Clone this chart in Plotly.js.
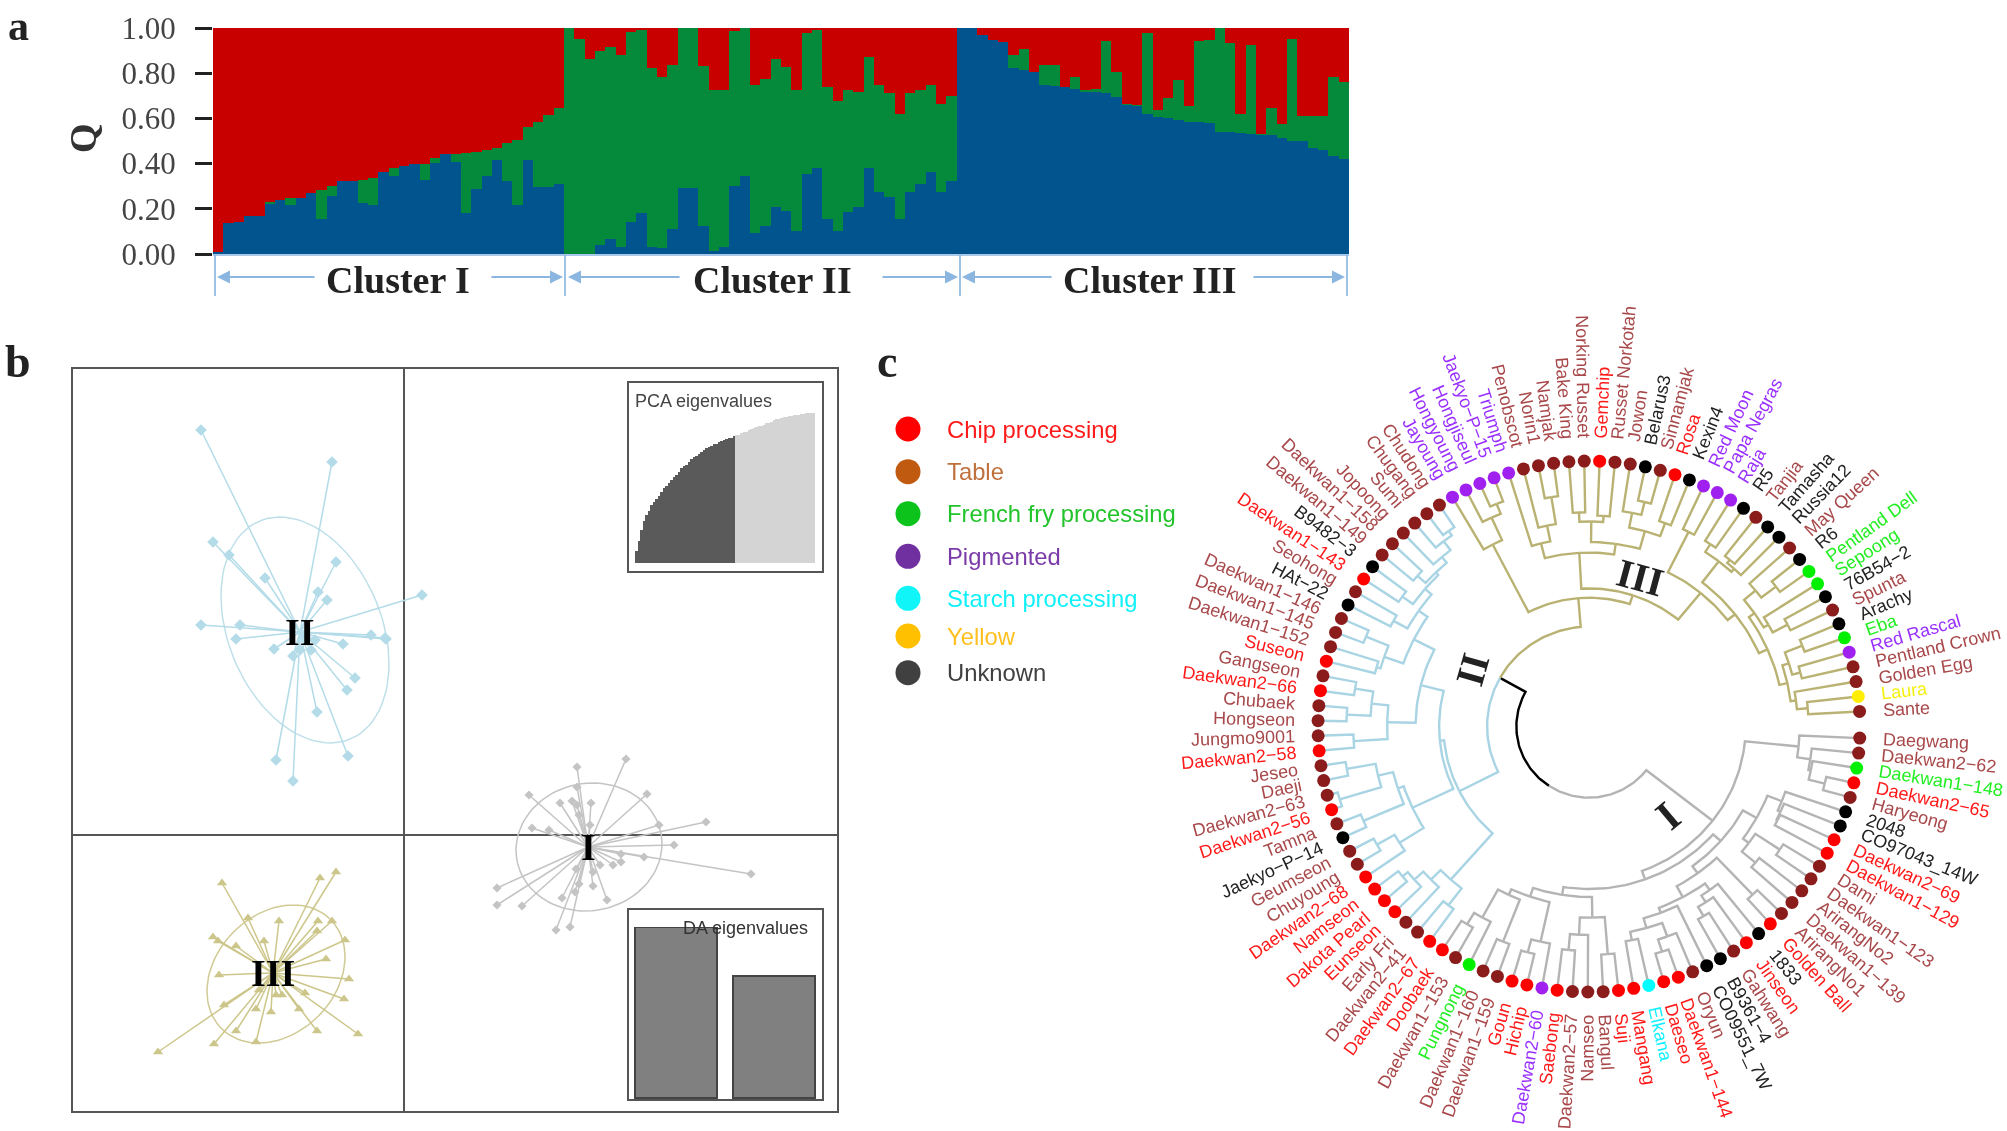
<!DOCTYPE html>
<html>
<head>
<meta charset="utf-8">
<script src="https://cdn.plot.ly/plotly-3.0.1.min.js"></script>
<style>html,body{margin:0;padding:0;background:#fff}#chart{width:2007px;height:1131px;filter:blur(0.55px)}</style>
</head>
<body>
<div id="chart"></div>
<script>
// ---------- Panel a: STRUCTURE-like Q bars ----------
const blueQ = [.010,.136,.143,.168,.168,.222,.239,.217,.247,.272,.154,.257,.321,.321,.227,.217,.362,.346,.391,.399,.328,.402,.442,.405,.180,.287,.346,.417,.321,.217,.417,.295,.295,.310,
 0,0,0,.040,.065,.030,.143,.180,.030,.025,.109,.291,.291,.124,.015,.030,.301,.346,.092,.124,.207,.192,.103,.355,.380,.154,.103,.188,.207,.380,.276,.251,.154,.276,.310,.362,.276,.321,
 1,1,.970,.945,.936,.823,.812,.804,.749,.744,.739,.730,.719,.715,.712,.694,.660,.656,.620,.606,.601,.591,.582,.582,.579,.539,.538,.535,.532,.527,.527,.513,.502,.501,.468,.458,.434,.421];
const blueGreenQ = [.010,.136,.143,.168,.168,.232,.239,.247,.247,.272,.284,.301,.321,.321,.328,.335,.362,.380,.391,.399,.399,.424,.442,.442,.449,.453,.461,.468,.490,.505,.564,.582,.616,.645,
 1,.951,.863,.897,.916,.882,.982,.993,.823,.783,.838,1,1,.830,.724,.724,.985,1,.749,.775,.863,.827,.724,.978,.993,.739,.679,.724,.715,.871,.749,.712,.619,.712,.724,.749,.663,.697,
 1,1,.970,.945,.936,.882,.907,.804,.838,.838,.739,.783,.724,.730,.941,.804,.663,.660,.978,.638,.690,.768,.656,.941,.948,1,.934,.619,.926,.532,.645,.576,.951,.612,.609,.609,.783,.759];
const qTicks = [0,.2,.4,.6,.8,1];
const qTickLabels = ['0.00','0.20','0.40','0.60','0.80','1.00'];
const clusterTitles = ['Cluster I','Cluster II','Cluster III'];

// ---------- Panel b: DAPC scatter (LD1, LD2) ----------
const ld1II = [-2.03,-.72,-1.91,-1.75,-1.39,-.68,-.86,-.77,.18,-2.03,-1.64,-1.68,-1.30,-1.11,-1.04,-.93,-.61,-.33,-.18,-.19,-.49,-.57,-.87,-.56,-1.28,-1.11,-.89];
const ld2II = [4.05,3.73,2.93,2.80,2.57,2.73,2.43,2.35,2.40,2.10,2.10,1.96,1.86,1.79,1.85,1.85,1.91,2.00,1.96,1.97,1.57,1.45,1.23,.79,.75,.54,1.95];
const ld1I = [2.22,1.73,1.73,2.43,1.25,1.56,1.68,1.73,1.87,1.75,1.28,1.86,2.55,3.02,1.45,2.70,2.17,2.40,3.47,2.17,1.96,2.09,1.89,1.72,1.75,1.89,1.58,1.71,2.03,1.66,1.52,.93,.93,1.18];
const ld2I = [.76,.68,.48,.41,.40,.32,.34,.30,.32,.20,.07,.10,.10,.13,.05,-.10,-.19,-.22,-.39,-.27,-.30,-.30,-.37,-.34,-.49,-.51,-.63,-.57,-.65,-.92,-.95,-.53,-.70,-.71];
const ld1III = [-1.82,-.84,-.68,-1.56,-1.25,-.86,-.87,-.72,-.59,-1.91,-1.86,-1.68,-1.40,-.78,-1.85,-.55,-.60,-1.80,-1.45,-1.22,-1.28,-.99,-1.48,-1.33,-1.05,-.87,-1.68,-1.90,-1.48,-.46,-2.46];
const ld2III = [-.48,-.43,-.37,-.83,-.86,-.86,-.96,-.86,-1.05,-1.02,-1.06,-1.11,-1.06,-1.24,-1.40,-1.44,-1.64,-1.70,-1.55,-1.60,-1.60,-1.58,-1.74,-1.77,-1.74,-1.96,-1.96,-2.09,-2.07,-1.99,-2.17];
const centroidI = [1.84,-.12], centroidII = [-1.04,2.03], centroidIII = [-1.31,-1.38];
const ellipseI = [1.85,-.12,.73,.64,.05], ellipseII = [-.99,2.05,.84,1.13,-.30], ellipseIII = [-1.28,-1.39,.69,.69,.25];
const pcaEigen = [.08,.15,.22,.28,.32,.35,.385,.41,.43,.45,.475,.50,.515,.535,.555,.575,.59,.61,.63,.645,.655,.67,.69,.705,.715,.725,.74,.755,.765,.775,.78,.79,.795,.805,.81,.82,.825,.83,.835,.845,
 .85,.855,.865,.87,.875,.885,.89,.90,.905,.91,.915,.92,.93,.935,.94,.95,.955,.96,.965,.97,.972,.975,.98,.982,.985,.987,.99,.992,.995,.997,1,1];
const pcaRetained = 40;
const daEigen = [1,.717];

// ---------- Panel c: circular dendrogram ----------
const useNames = ['Chip processing','Table','French fry processing','Pigmented','Starch processing','Yellow','Unknown'];
const leafNames = ['Daegwang','Daekwan2−62','Daekwan1−148','Daekwan2−65','Haryeong','2048','CO97043_14W','Daekwan2−69','Daekwan1−129','Dami','Daekwan1−123','ArirangNo2','Daekwan1−139','ArirangNo1','Golden Ball','1833','Jinseon','Gahwang','B9361−4','CO09551_7W','Oryun','Daekwan1−144','Daeseo','Elkana','Mangang','Suji','Bangul','Namseo','Daekwan2−57','Saebong','Daekwan2−60','Hichip','Goun','Daekwan1−159','Daekwan1−160','Pungnong','Daekwan1−153','Doobaek','Daekwan2−67','Daekwan2−41','Early Fri','Eunseon','Dakota Pearl','Namseon','Daekwan2−68','Chuyoung','Geumseon','Jaekyo−P−14','Tamna','Daekwan2−56','Daekwan2−63','Daeji','Jeseo','Daekwan2−58','Jungmo9001','Hongseon','Chubaek','Daekwan2−66','Gangseon','Suseon','Daekwan1−152','Daekwan1−145','Daekwan1−146','HAt−22','Seohong','Daekwan1−143','B9482−3','Daekwan1−149','Daekwan1−158','Jopoong','Sumi','Chugang','Chudong','Jayoung','Hongyoung','Hongjiseul','Jaekyo−P−15','Triumph','Penobscot','Norin1','Namjak','Bake King','Norking Russet','Gemchip','Russet Norkotah','Jowon','Belarus3','Sinnamjak','Rosa','Kexin4','Red Moon','Papa Negras','Raja','R5','Tanjia','Tamasha','Russia12','May Queen','R6','Pentland Dell','Sepoong','76B54−2','Spunta','Arachy','Eba','Red Rascal','Pentland Crown','Golden Egg','Laura','Sante'];
// 0 chip, 1 table, 2 french fry, 3 pigmented, 4 starch, 5 yellow, 6 unknown
const leafUse = [1,1,2,0,1,6,6,0,0,1,1,1,1,1,0,6,0,1,6,6,1,0,0,4,0,0,1,1,1,0,3,0,0,1,1,2,1,0,0,1,1,0,0,0,0,1,1,6,1,0,1,1,1,0,1,1,1,0,1,0,1,1,1,6,1,0,6,1,1,1,1,1,1,3,3,3,3,3,1,1,1,1,1,0,1,1,6,1,0,6,3,3,3,6,1,6,6,1,6,2,2,6,1,6,2,3,1,1,5,1];
// dendrogram nodes: [radius, child, child]; an integer is a leaf number
const treeI = [.578,
  [.777,1,[.826,2,[.835,3,[.896,4,5]]]],
  [.612,
    [.65,
      [.708,[.765,6,[.776,7,[.78,8,9]]],[.735,[.843,10,11],[.80,12,13]]],
      [.683,[.875,14,15],[.73,[.76,16,[.79,17,[.83,18,19]]],[.75,20,[.788,[.842,21,[.89,22,23]],[.82,24,25]]]]]
    ],
    [.642,
      [.72,[.86,26,27],[.785,28,[.845,29,30]]],
      [.677,[.83,31,[.88,32,33]],[.70,[.87,34,35],[.82,36,[.87,37,38]]]]
    ]
  ]
];
const treeII = [.537,
  [.77,[.85,39,40],[.82,41,[.865,42,[.89,43,44]]]],
  [.553,
    [.72,
      [.825,45,[.9,46,47]],
      [.743,[.905,48,49],[.80,[.96,50,51],[.908,52,53]]]
    ],
    [.64,
      [.745,[.87,54,55],[.807,[.895,56,57],[.875,58,59]]],
      [.725,
        [.80,[.815,60,61],[.89,62,63]],
        [.765,[.824,64,65],[.797,[.845,66,67],[.81,[.85,68,69],[.838,70,[.88,71,[.90,72,73]]]]]]
      ]
    ]
  ]
];
const treeIII = [.485,
  [.772,74,[.865,75,[.905,76,77]]],
  [.52,
    [.655,
      [.712,78,[.772,79,[.875,80,81]]],
      [.695,
        [.772,[.807,82,83],[.795,84,85]],
        [.764,[.82,86,[.87,87,88]],[.816,89,90]]
      ]
    ],
    [.65,
      [.82,91,92],
      [.685,
        [.785,[.82,93,94],[.80,[.815,95,96],97]],
        [.72,
          [.745,[.80,98,[.868,99,100]],[.765,101,[.827,102,103]]],
          [.75,[.775,[.844,104,105],[.806,106,107]],[.77,108,[.81,109,110]]]
        ]
      ]
    ]
  ]
];
const rootRadius = .268, upperRadius = .376;

// ---------- Styling ----------
const W = 2007, H = 1131;
const SERIF = '"Liberation Serif", serif', SANS = '"Liberation Sans", Arial, sans-serif';
const COL = {blue:'#02548f', green:'#05893a', red:'#c90000'};
const clusterCol = {I:'#b4b4b4', II:'#a8d4e4', III:'#b9b272'};
const dotCol = ['#ff0000','#8b1c1c','#00f000','#a020f0','#00ffff','#ffee00','#000000'];
const labelCol = ['#ff1a1a','#a8484a','#22ee22','#9a30ff','#10f0ff','#f5f010','#222222'];
const legendDot = ['#ff0000','#c05a11','#0cc31b','#7030a0','#0ff5f8','#ffc000','#404040'];
const legendTxt = ['#ff1a1a','#c0703c','#22c42c','#7a3aa8','#10f0f8','#ffc020','#404040'];
const legendY = [429,471.7,513.7,556.3,598.3,636,672.7];
const domX = (a,b)=>[a/W,b/W], domY = (t,b)=>[1-b/H,1-t/H];
const px = v=>v/W, py = v=>1-v/H;

const traces = [], shapes = [], ann = [];
const paperText=(t,x,y,font,extra)=>Object.assign({xref:'paper',yref:'paper',x:px(x),y:py(y),xanchor:'center',yanchor:'middle',text:t,showarrow:false,font},extra||{});

// panel a
const xBars = blueQ.map((_,i)=>i+1);
const greenQ = blueGreenQ.map((v,i)=>+(v-blueQ[i]).toFixed(3));
const redQ = blueGreenQ.map(v=>+(1-v).toFixed(3));
[[blueQ,COL.blue],[greenQ,COL.green],[redQ,COL.red]].forEach(([y,c])=>traces.push(
  {type:'bar',x:xBars,y,marker:{color:c,line:{width:0}},xaxis:'x',yaxis:'y',showlegend:false,hoverinfo:'skip'}));

// panel b
function star(xs,ys,c,col,sym,size){
  const lx=[],ly=[];
  xs.forEach((x,i)=>{lx.push(c[0],x,null);ly.push(c[1],ys[i],null);});
  traces.push({type:'scatter',mode:'lines',x:lx,y:ly,line:{color:col,width:1.5},xaxis:'x2',yaxis:'y2',showlegend:false,hoverinfo:'skip'});
  traces.push({type:'scatter',mode:'markers',x:xs,y:ys,marker:{color:col,symbol:sym,size},xaxis:'x2',yaxis:'y2',showlegend:false,hoverinfo:'skip'});
}
function ellipse(e,col){
  const [cx,cy,wx,wy,rho]=e, ex=[], ey=[];
  for(let d=0;d<=360;d+=4){const t=d*Math.PI/180;
    ex.push(cx+wx*Math.cos(t));
    ey.push(cy+wy*(rho*Math.cos(t)+Math.sqrt(1-rho*rho)*Math.sin(t)));}
  traces.push({type:'scatter',mode:'lines',x:ex,y:ey,line:{color:col,width:1.5},xaxis:'x2',yaxis:'y2',showlegend:false,hoverinfo:'skip'});
}
const bI='#c4c4c4', bII='#bfe0ea', bIII='#d0ca94';
ellipse(ellipseI,bI);ellipse(ellipseII,bII);ellipse(ellipseIII,bIII);
star(ld1I,ld2I,centroidI,bI,'diamond',7);
star(ld1II,ld2II,centroidII,'#b4dce8','diamond',9);
star(ld1III,ld2III,centroidIII,'#cdc68a','triangle-up',9);
[['I',centroidI],['II',centroidII],['III',centroidIII]].forEach(([t,c])=>ann.push(
  {xref:'x2',yref:'y2',x:c[0],y:c[1],xanchor:'center',yanchor:'middle',text:t,showarrow:false,font:{family:SERIF,size:38,color:'#000',weight:700}}));

// insets
traces.push({type:'bar',x:pcaEigen.map((_,i)=>i),y:pcaEigen,xaxis:'x3',yaxis:'y3',showlegend:false,hoverinfo:'skip',
  marker:{color:pcaEigen.map((_,i)=>i<pcaRetained?'#5a5a5a':'#d4d4d4'),line:{width:0}}});
traces.push({type:'bar',x:[0,1],y:daEigen,width:.837,xaxis:'x4',yaxis:'y4',showlegend:false,hoverinfo:'skip',
  marker:{color:'#808080',line:{color:'#444',width:1.5}}});
ann.push(paperText('PCA eigenvalues',633,401,{family:SANS,size:18,color:'#444'},{xanchor:'left'}));
ann.push(paperText('DA eigenvalues',745,928,{family:SANS,size:18,color:'#333'}));

// panel c : tree
const thetaStart=-2.5, thetaStep=3.25, RX=271, RY=265.5, CX=1589, CY=726.5;
const rad=d=>d*Math.PI/180;
const leafTheta=n=>thetaStart-thetaStep*(n-1);
function build(n){
  if(typeof n==='number') return {theta:leafTheta(n),r:1,kids:[]};
  const a=build(n[1]),b=build(n[2]);
  return {theta:(a.theta+b.theta)/2,r:n[0],kids:[a,b]};
}
const segs={};
function addBranch(p,c,col){
  const s=segs[col]||(segs[col]={x:[],y:[]});
  const n=Math.max(2,Math.ceil(Math.abs(c.theta-p.theta)/1.5));
  for(let i=0;i<=n;i++){const t=rad(p.theta+(c.theta-p.theta)*i/n);
    s.x.push(p.r*Math.cos(t));s.y.push(p.r*Math.sin(t));}
  s.x.push(c.r*Math.cos(rad(c.theta)),null);s.y.push(c.r*Math.sin(rad(c.theta)),null);
}
function walk(node,col){node.kids.forEach(k=>{addBranch(node,k,col);walk(k,col);});}
const nI=build(treeI), nII=build(treeII), nIII=build(treeIII);
const upper={theta:(nII.theta+nIII.theta)/2,r:upperRadius,kids:[nII,nIII]};
const root={theta:(nI.theta+upper.theta)/2,r:rootRadius,kids:[nI,upper]};
addBranch(root,nI,clusterCol.I);addBranch(root,upper,'#000000');
addBranch(upper,nII,clusterCol.II);addBranch(upper,nIII,clusterCol.III);
walk(nI,clusterCol.I);walk(nII,clusterCol.II);walk(nIII,clusterCol.III);
Object.keys(segs).forEach(col=>traces.push({type:'scatter',mode:'lines',x:segs[col].x,y:segs[col].y,
  line:{color:col,width:2.4},xaxis:'x5',yaxis:'y5',showlegend:false,hoverinfo:'skip'}));
useNames.forEach((name,u)=>{
  const idx=leafUse.map((v,i)=>v===u?i+1:0).filter(Boolean);
  traces.push({type:'scatter',mode:'markers',name,x:idx.map(n=>Math.cos(rad(leafTheta(n)))),y:idx.map(n=>Math.sin(rad(leafTheta(n)))),
    marker:{color:dotCol[u],size:13},xaxis:'x5',yaxis:'y5',showlegend:false,hoverinfo:'skip'});
});
// radial leaf labels, inner end of each label at a fixed radius
const ctx=document.createElement('canvas').getContext('2d');
ctx.font='18px "Liberation Sans"';
const labelR=1.085;
leafNames.forEach((name,i)=>{
  const th=leafTheta(i+1), c=Math.cos(rad(th)), s=Math.sin(rad(th));
  const w=ctx.measureText(name).width;
  const right=c>=0;
  ann.push({xref:'x5',yref:'y5',x:labelR*c+(w/2)*c/RX,y:labelR*s+(w/2)*s/RY,text:name,showarrow:false,
    textangle:right?-th:-(th+180),xanchor:'center',yanchor:'middle',
    font:{family:SANS,size:18,color:labelCol[leafUse[i]]}});
});
[['I',1668,816,-40,42],['II',1472,670,-74,40],['III',1640,577,15,40]].forEach(([t,x,y,a,sz])=>ann.push(
  paperText(t,x,y,{family:SERIF,size:sz,color:'#222',weight:700},{textangle:a})));

// legend for panel c
traces.push({type:'scatter',mode:'markers',x:useNames.map(()=>908),y:legendY,marker:{color:legendDot,size:25},xaxis:'x6',yaxis:'y6',showlegend:false,hoverinfo:'skip'});
useNames.forEach((t,i)=>ann.push(paperText(t,945,legendY[i],{family:SANS,size:23.8,color:legendTxt[i]},{xanchor:'left'})));

// panel letters & axis title
[['a',18,26,42],['b',18,361,46],['c',887,361,46]].forEach(([t,x,y,sz])=>ann.push(paperText(t,x,y,{family:SERIF,size:sz,color:'#222',weight:700})));
ann.push(paperText('Q',83,138,{family:SERIF,size:38,color:'#333',weight:700},{textangle:-90}));

// cluster brackets under panel a
const bracketX=[215,565,960,1347];
bracketX.forEach(x=>shapes.push({type:'line',xref:'paper',yref:'paper',x0:px(x),x1:px(x),y0:py(255),y1:py(296),line:{color:'#9cc3e6',width:2}}));
shapes.push({type:'line',xref:'paper',yref:'paper',x0:px(213),x1:px(1349),y0:py(255),y1:py(255),line:{color:'#8ab6e0',width:1.5}});
const textCx=[398,772,1150];
clusterTitles.forEach((t,i)=>ann.push(paperText(t,textCx[i],280,{family:SERIF,size:38,color:'#222',weight:700})));
const arrows=[[316,217],[490,563],[681,568],[881,958],[1053,962],[1252,1345]];
arrows.forEach(([from,to])=>ann.push({xref:'paper',yref:'paper',x:px(to),y:py(277),ax:from-to,ay:0,axref:'pixel',ayref:'pixel',text:'',showarrow:true,
  arrowhead:2,arrowsize:1.3,arrowwidth:2,arrowcolor:'#8ab6e0'}));

const hidden=(dx,dy,rx,ry)=>[
  {domain:dx,range:rx,visible:false,fixedrange:true},
  {domain:dy,range:ry,visible:false,fixedrange:true}];
const framed=(dom,range)=>({domain:dom,range,showline:true,mirror:true,linecolor:'#555',linewidth:2,showgrid:false,zeroline:false,showticklabels:false,ticks:'',fixedrange:true});

const [x5,y5]=hidden([0,1],[0,1],[-CX/RX,(W-CX)/RX],[-(H-CY)/RY,CY/RY]);
const [x6,y6]=hidden([0,1],[0,1],[0,W],[H,0]);
x5.anchor='y5';y5.anchor='x5';x6.anchor='y6';y6.anchor='x6';

const layout={
  width:W,height:H,margin:{l:0,r:0,t:0,b:0},paper_bgcolor:'#fff',plot_bgcolor:'rgba(0,0,0,0)',
  barmode:'stack',bargap:0,showlegend:false,font:{family:SANS},
  xaxis:{domain:domX(213,1349),range:[.5,110.5],visible:false,anchor:'y',fixedrange:true},
  yaxis:{domain:domY(28,254),range:[0,1],anchor:'x',tickvals:qTicks,ticktext:qTickLabels,ticks:'outside',ticklen:17,tickwidth:3,tickcolor:'#222',
    showgrid:false,zeroline:false,showline:false,ticklabelstandoff:13,tickfont:{family:SERIF,size:31,color:'#444'},fixedrange:true},
  xaxis2:Object.assign(framed(domX(73,837),[-3.31,4.33]),{anchor:'y2',zeroline:true,zerolinecolor:'#555',zerolinewidth:2}),
  yaxis2:Object.assign(framed(domY(369,1111),[-2.76,4.66]),{anchor:'x2',zeroline:true,zerolinecolor:'#555',zerolinewidth:2}),
  xaxis3:Object.assign(framed(domX(629,822),[-2.9,74.3]),{anchor:'y3'}),
  yaxis3:Object.assign(framed(domY(383,571),[-.05,1.197]),{anchor:'x3'}),
  xaxis4:Object.assign(framed(domX(629,822),[-.48,1.49]),{anchor:'y4'}),
  yaxis4:Object.assign(framed(domY(910,1099),[-.005,1.103]),{anchor:'x4'}),
  xaxis5:x5,yaxis5:y5,xaxis6:x6,yaxis6:y6,
  shapes,annotations:ann
};
Plotly.newPlot('chart',traces,layout,{staticPlot:true,displayModeBar:false});
</script>
</body>
</html>
